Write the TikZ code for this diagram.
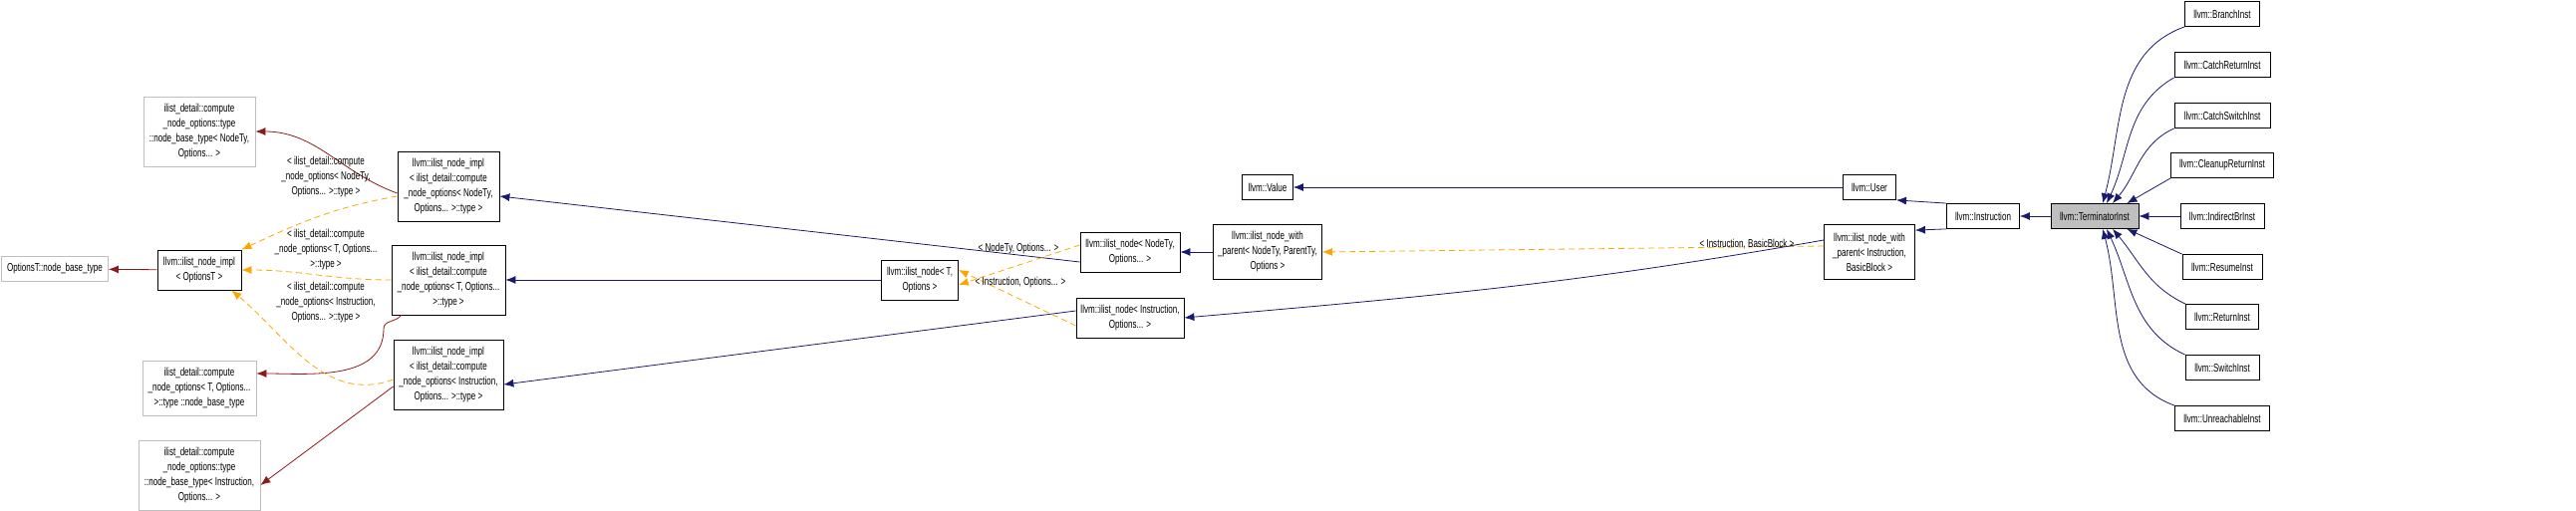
\documentclass[tikz,border=0pt]{standalone}
\usepackage{fontspec}
\setmainfont{Liberation Sans}[FakeStretch=0.7]
\usetikzlibrary{arrows.meta}
\definecolor{navy}{HTML}{191970}
\definecolor{fbrick}{HTML}{8B1A1A}
\definecolor{orng}{HTML}{FFA500}
\definecolor{gbord}{HTML}{BFBFBF}
\tikzset{
 box/.style={draw=black, thick, align=center, inner sep=2pt, font=\fontsize{11.5}{15}\selectfont, minimum height=25pt, fill=white},
 ext/.style={box, draw=gbord},
 inh/.style={navy, thick, -{Latex[length=10pt,width=8pt]}},
 pub/.style={fbrick, thick, -{Latex[length=10pt,width=8pt]}},
 tpl/.style={orng, thick, dashed, dash pattern=on 6pt off 4pt, -{Latex[length=10pt,width=8pt]}},
 lbl/.style={align=center, font=\fontsize{11.5}{15}\selectfont, inner sep=0pt},
}
\begin{document}
\begin{tikzpicture}[x=1pt,y=-1pt]
\useasboundingbox (0,0) rectangle (2585,513);
% left column
\node[ext, minimum width=107pt] (onb) at (55,270) {OptionsT::node\_base\_type};
\node[box, minimum width=84pt, minimum height=40pt] (implO) at (200,271) {llvm::ilist\_node\_impl\\< OptionsT >};
\node[ext, minimum width=112pt, minimum height=70pt] (cnb1) at (200,132) {ilist\_detail::compute\\\_node\_options::type\\::node\_base\_type< NodeTy,\\Options... >};
\node[ext, minimum width=114pt, minimum height=55pt] (cnb2) at (200,390) {ilist\_detail::compute\\\_node\_options< T, Options...\\>::type ::node\_base\_type};
\node[ext, minimum width=122pt, minimum height=70pt] (cnb3) at (200,477) {ilist\_detail::compute\\\_node\_options::type\\::node\_base\_type< Instruction,\\Options... >};
% impls
\node[box, minimum width=102pt, minimum height=70pt] (implN) at (450,187) {llvm::ilist\_node\_impl\\< ilist\_detail::compute\\\_node\_options< NodeTy,\\Options... >::type >};
\node[box, minimum width=114pt, minimum height=70pt] (implT) at (450,281) {llvm::ilist\_node\_impl\\< ilist\_detail::compute\\\_node\_options< T, Options...\\>::type >};
\node[box, minimum width=110pt, minimum height=70pt] (implI) at (450,376) {llvm::ilist\_node\_impl\\< ilist\_detail::compute\\\_node\_options< Instruction,\\Options... >::type >};
% ilist nodes
\node[box, minimum width=77pt, minimum height=40pt] (nT) at (923,281) {llvm::ilist\_node< T,\\Options >};
\node[box, minimum width=100pt, minimum height=40pt] (nN) at (1134,253) {llvm::ilist\_node< NodeTy,\\Options... >};
\node[box, minimum width=108pt, minimum height=40pt] (nI) at (1134,319) {llvm::ilist\_node< Instruction,\\Options... >};
\node[box, minimum width=109pt, minimum height=55pt] (wpN) at (1272,253) {llvm::ilist\_node\_with\\\_parent< NodeTy, ParentTy,\\Options >};
\node[box, minimum width=51pt] (val) at (1272,188) {llvm::Value};
\node[box, minimum width=53pt] (usr) at (1876,188) {llvm::User};
\node[box, minimum width=91pt, minimum height=55pt] (wpI) at (1876,253) {llvm::ilist\_node\_with\\\_parent< Instruction,\\BasicBlock >};
\node[box, minimum width=73pt] (ins) at (1990,217) {llvm::Instruction};
\node[box, minimum width=88pt, fill=gbord] (term) at (2102,217) {llvm::TerminatorInst};
% children
\node[box, minimum width=75pt] (c1) at (2230,14) {llvm::BranchInst};
\node[box, minimum width=96pt] (c2) at (2230,65) {llvm::CatchReturnInst};
\node[box, minimum width=96pt] (c3) at (2230,116) {llvm::CatchSwitchInst};
\node[box, minimum width=103pt] (c4) at (2230,166) {llvm::CleanupReturnInst};
\node[box, minimum width=84pt] (c5) at (2230,217) {llvm::IndirectBrInst};
\node[box, minimum width=80pt] (c6) at (2230,268) {llvm::ResumeInst};
\node[box, minimum width=73pt] (c7) at (2230,318) {llvm::ReturnInst};
\node[box, minimum width=74pt] (c8) at (2230,369) {llvm::SwitchInst};
\node[box, minimum width=95pt] (c9) at (2230,420) {llvm::UnreachableInst};
% edges left
\draw[pub] (implO) -- (onb);
\draw[pub] ([yshift=-7pt]implN.west) to[out=160,in=0] (cnb1.east);
\draw[pub] ([xshift=10pt]implT.south west) to[out=235,in=90] (385,330) to[out=270,in=0] ([yshift=15pt]cnb2.east);
\draw[pub] ([yshift=-12pt]implI.west) -- ([yshift=-10pt]cnb3.east);
\draw[tpl] ([yshift=-10pt]implN.west) to[out=190,in=25] (implO.north east) ;
\draw[tpl] (implT.west) to[out=180,in=0] (implO.east);
\draw[tpl] ([yshift=-5pt]implI.west) to[out=200,in=-40] ([xshift=-10pt]implO.south east);
\node[lbl] (l1) at (327,178) {< ilist\_detail::compute\\\_node\_options< NodeTy,\\Options... >::type >};
\node[lbl] (l2) at (327,251) {< ilist\_detail::compute\\\_node\_options< T, Options...\\>::type >};
\node[lbl] (l3) at (327,304) {< ilist\_detail::compute\\\_node\_options< Instruction,\\Options... >::type >};
% edges middle
\draw[inh] ([yshift=-10pt]nN.west) -- ([yshift=-10pt]implN.east);
\draw[inh] (nT.west) -- (implT.east);
\draw[inh] ([yshift=7pt]nI.west) -- ([yshift=-10pt]implI.east);
\draw[tpl] ([yshift=7pt]nN.west) -- ([yshift=-5pt]nT.east);
\draw[tpl] ([yshift=-8pt]nI.west) -- ([yshift=10pt]nT.east);
\node[lbl] (l4) at (1022,250) {< NodeTy, Options... >};
\node[lbl] (l5) at (1024,284) {< Instruction, Options... >};
\draw[inh] (wpN) -- (nN);
\draw[tpl] ([yshift=6pt]wpI.west) -- (wpN.east);
\node[lbl] (l6) at (1753,245) {< Instruction, BasicBlock >};
\draw[inh] ([yshift=12pt]wpI.west) to[out=190,in=5] (nI.east);
\draw[inh] (usr) -- (val);
\draw[inh] (ins.north west) -- (usr.south east);
\draw[inh] (ins.south west) -- ([yshift=-6pt]wpI.north east);
\draw[inh] (term) -- (ins);
% children edges
\draw[inh] (c1.south west) to[out=200,in=75] ([xshift=8pt]term.north);
\draw[inh] (c2.south west) to[out=210,in=65] ([xshift=12pt]term.north);
\draw[inh] (c3.south west) to[out=205,in=50] ([xshift=18pt]term.north);
\draw[inh] (c4.south west) -- ([xshift=-12pt]term.north east);
\draw[inh] (c5) -- (term);
\draw[inh] (c6.north west) -- ([xshift=-12pt]term.south east);
\draw[inh] (c7.north west) to[out=155,in=-50] ([xshift=18pt]term.south);
\draw[inh] (c8.north west) to[out=155,in=-65] ([xshift=12pt]term.south);
\draw[inh] (c9.north west) to[out=160,in=-75] ([xshift=8pt]term.south);
\end{tikzpicture}
\end{document}
